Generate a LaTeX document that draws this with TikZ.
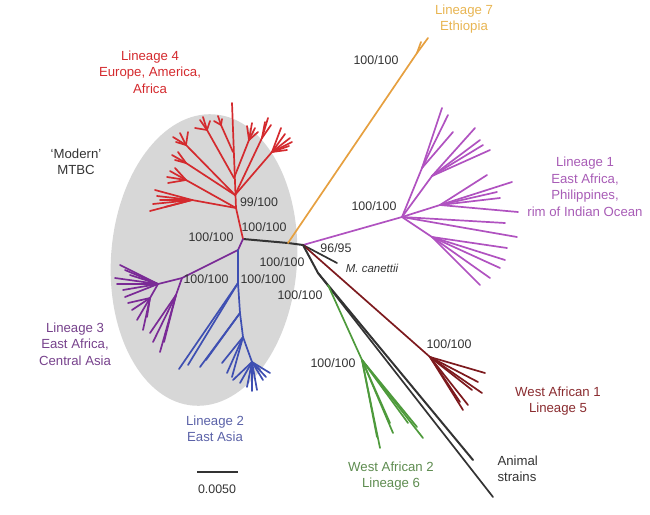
\documentclass[tikz,border=0pt]{standalone}
\usepackage{fontspec}
\setsansfont{Liberation Sans}
\usepackage{xcolor}
\usepackage{tikz}
\definecolor{ink}{HTML}{333333}
\definecolor{ellgray}{HTML}{D7D7D7}
\definecolor{lfour}{HTML}{D42A2E}
\definecolor{lseven}{HTML}{E6A040}
\definecolor{tseven}{HTML}{E8B552}
\definecolor{lone}{HTML}{B052C0}
\definecolor{tone}{HTML}{A85CB6}
\definecolor{lthree}{HTML}{7A2A96}
\definecolor{tthree}{HTML}{77428C}
\definecolor{ltwo}{HTML}{3E4FB2}
\definecolor{ttwo}{HTML}{5B62A8}
\definecolor{lsix}{HTML}{4E9A3C}
\definecolor{tsix}{HTML}{5E8C50}
\definecolor{lfive}{HTML}{7D1A1E}
\definecolor{tfive}{HTML}{8A2C30}

\begin{document}
\begin{tikzpicture}[x=1pt, y=-1pt, line cap=round, line join=round,
  br/.style={line width=1.7pt},
  stem/.style={line width=2pt},
  lab/.style={font=\sffamily\fontsize{13.2}{16.5}\selectfont, align=center},
  sup/.style={font=\sffamily\fontsize{12.4}{14}\selectfont, text=ink}]
  \useasboundingbox (0,0) rectangle (650,514);
  \fill[ellgray, rotate around={-4:(204,260)}] (204,260) ellipse [x radius=93, y radius=146];

  \coordinate (mod) at (243,239);
  \coordinate (o0) at (288,243);
  \coordinate (root) at (303,245);
  \coordinate (j23) at (238,250);

  \draw[stem, ink] (mod) -- (o0) -- (root);

  \coordinate (r1) at (236,208);
  \coordinate (rt) at (232,103);
  \coordinate (rs1) at (235,195);
  \coordinate (rs2) at (234,178);
  \coordinate (rs3) at (233,152);
  \draw[br, lfour] (mod) -- (r1) -- (rt);
  \draw[br, lfour] (r1) -- (192,200) coordinate (ra);
  \foreach \p in {(150,211),(153,204),(157,196),(155,190),(165,207),(160,200)} \draw[br, lfour] (ra) -- \p;
  \draw[br, lfour] (r1) -- (186,180) coordinate (rb);
  \foreach \p in {(167,177),(170,171),(175,168),(168,183)} \draw[br, lfour] (rb) -- \p;
  \draw[br, lfour] (rs1) -- (186,163) coordinate (rc);
  \foreach \p in {(172,155),(175,160),(178,152)} \draw[br, lfour] (rc) -- \p;
  \draw[br, lfour] (rs1) -- (186,145) coordinate (rd);
  \foreach \p in {(173,137),(180,133),(188,132),(176,142)} \draw[br, lfour] (rd) -- \p;
  \draw[br, lfour] (rs2) -- (207,130) coordinate (re);
  \foreach \p in {(200,120),(203,117),(210,121),(195,128)} \draw[br, lfour] (re) -- \p;
  \draw[br, lfour] (rs3) -- (221,125) coordinate (rf);
  \foreach \p in {(218,116),(222,119),(214,121)} \draw[br, lfour] (rf) -- \p;
  \draw[br, lfour] (rs2) -- (249,140) coordinate (rg);
  \foreach \p in {(247,126),(255,128),(252,123),(258,132)} \draw[br, lfour] (rg) -- \p;
  \draw[br, lfour] (rs1) -- (262,138) coordinate (rh);
  \foreach \p in {(268,118),(265,122),(271,125)} \draw[br, lfour] (rh) -- \p;
  \draw[br, lfour] (rs1) -- (272,152) coordinate (ri);
  \foreach \p in {(281,128),(292,142),(287,150),(285,134),(290,138),(289,146)} \draw[br, lfour] (ri) -- \p;

  \coordinate (p1) at (182,278);
  \coordinate (p2) at (158,284);
  \draw[br, lthree] (mod) -- (j23) -- (p1) -- (p2);
  \draw[br, lthree] (p1) -- (176,295) coordinate (p3);
  \foreach \p in {(153,342),(160,352),(150,333),(164,342)} \draw[br, lthree] (p3) -- \p;
  \foreach \p in {(115,278),(120,265),(125,270),(117,284),(123,290),(125,297),(130,275)} \draw[br, lthree] (p2) -- \p;
  \draw[br, lthree] (p2) -- (150,298) coordinate (p4);
  \foreach \p in {(132,310),(137,320),(143,330),(147,317),(128,303)} \draw[br, lthree] (p4) -- \p;

  \coordinate (q1) at (238,283);
  \coordinate (q2) at (240,313);
  \coordinate (q3) at (243,337);
  \coordinate (q4) at (252,362);
  \draw[br, ltwo] (j23) -- (q1) -- (q2) -- (q3) -- (q4);
  \foreach \p in {(179,369),(188,365)} \draw[br, ltwo] (q1) -- \p;
  \foreach \p in {(200,367),(206,360)} \draw[br, ltwo] (q2) -- \p;
  \foreach \p in {(222,363),(227,373),(232,377)} \draw[br, ltwo] (q3) -- \p;
  \foreach \p in {(233,380),(240,383),(247,387),(252,391),(257,390),(263,380),(270,373),(266,377),(260,370)} \draw[br, ltwo] (q4) -- \p;

  \coordinate (o1) at (417,53);
  \draw[br, lseven] (o0) -- (o1) -- (428,38);
  \draw[br, lseven] (o1) -- (421,42);

  \coordinate (u0) at (402,217);
  \draw[br, lone] (root) -- (u0);
  \draw[br, lone] (u0) -- (422,168) coordinate (u1);
  \foreach \p in {(442,108),(448,115),(453,132)} \draw[br, lone] (u1) -- \p;
  \draw[br, lone] (u0) -- (432,176) coordinate (u2);
  \foreach \p in {(475,128),(480,140),(483,145),(490,150)} \draw[br, lone] (u2) -- \p;
  \draw[br, lone] (u0) -- (440,205) coordinate (u3);
  \foreach \p in {(487,175),(512,182),(497,192),(500,198),(518,212)} \draw[br, lone] (u3) -- \p;
  \foreach \p in {(505,223),(517,237)} \draw[br, lone] (u0) -- \p;
  \draw[br, lone] (u0) -- (432,237) coordinate (u4);
  \foreach \p in {(507,248),(505,260),(500,268),(490,278),(480,285)} \draw[br, lone] (u4) -- \p;

  \coordinate (can) at (337,263);
  \draw[br, ink] (root) -- (can);

  \coordinate (b1) at (430,357);
  \draw[br, lfive] (root) -- (b1);
  \foreach \p in {(485,373),(478,382),(482,393),(472,390),(468,405),(463,410),(460,402)} \draw[br, lfive] (b1) -- \p;

  \coordinate (ba) at (318,273);
  \coordinate (an1) at (473,460);
  \coordinate (an2) at (493,497);
  \draw[stem, ink] (root) -- (ba) -- (an1);
  \draw[br, ink] (ba) -- (an2);

  \coordinate (g0) at (328,285);
  \coordinate (g1) at (362,360);
  \draw[br, lsix] (g0) -- (g1);
  \foreach \p in {(380,448),(377,437),(393,433),(390,423),(417,427),(423,438),(408,423)} \draw[br, lsix] (g1) -- \p;

  \coordinate (sb1) at (197,472);
  \coordinate (sb2) at (238,472);
  \draw[ink, line width=2.8pt, line cap=butt] (sb1) -- (sb2);
  \node (sbl) [sup] at (217,489) {0.0050};

  \node (lab4) [lab, text=lfour] at (150,72) {Lineage 4\\Europe, America,\\Africa};
  \node (labmod) [lab, text=ink] at (76,162) {`Modern'\\MTBC};
  \node (lab7) [lab, text=tseven] at (464,19) {Lineage 7\\Ethiopia};
  \node (lab1) [lab, text=tone] at (585,187) {Lineage 1\\East Africa,\\Philippines,\\rim of Indian Ocean};
  \node (lab3) [lab, text=tthree] at (75,344) {Lineage 3\\East Africa,\\Central Asia};
  \node (lab2) [lab, text=ttwo] at (215,429) {Lineage 2\\East Asia};
  \node (lab6) [lab, text=tsix] at (391,476) {West African 2\\Lineage 6};
  \node (lab5) [lab, text=tfive] at (558,401) {West African 1\\Lineage 5};
  \node (labani) [lab, text=ink, anchor=west, align=left] at (494,469) {Animal\\strains};

  \node (s7) [sup] at (376,60) {100/100};
  \node (s1) [sup] at (374,206) {100/100};
  \node (s99) [sup] at (259,202) {99/100};
  \node (s4) [sup] at (264,227) {100/100};
  \node (smod) [sup] at (211,237) {100/100};
  \node (sroot) [sup] at (282,262) {100/100};
  \node (s3) [sup] at (206,279) {100/100};
  \node (s2) [sup] at (263,279) {100/100};
  \node (san) [sup] at (300,295) {100/100};
  \node (scan) [sup] at (336,248) {96/95};
  \node (canlab) [sup, font=\sffamily\itshape\fontsize{11.5}{14}\selectfont] at (372,268) {M. canettii};
  \node (s6) [sup] at (333,363) {100/100};
  \node (s5) [sup] at (449,344) {100/100};
\end{tikzpicture}
\end{document}
